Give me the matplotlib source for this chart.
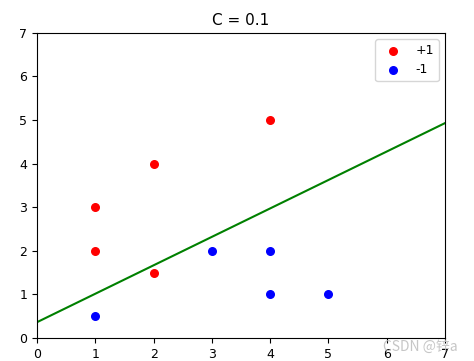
import matplotlib
matplotlib.use("Agg")
import matplotlib.pyplot as plt
import numpy as np

pos_x = [1, 1, 2, 2, 4]
pos_y = [3, 2, 4, 1.5, 5]
neg_x = [1, 3, 4, 4, 5]
neg_y = [0.5, 2, 2, 1, 1]
line_x = [0, 7]
line_y = [0.36, 4.93]
title = "C = 0.1"

fig = plt.figure(figsize=(4.74, 3.61), dpi=100)
ax = fig.add_axes([0.078, 0.064, 0.861, 0.845])
ax.scatter(pos_x, pos_y, color="red", s=30, label="+1")
ax.scatter(neg_x, neg_y, color="blue", s=30, label="-1")
ax.plot(line_x, line_y, color="green")
ax.set_xlim(0, 7)
ax.set_ylim(0, 7)
ax.set_title(title, fontsize=11)
ax.tick_params(labelsize=9)
ax.legend(loc="upper right", fontsize=9)
fig.text(0.966, 0.02, "CSDN @锌a", ha="right", va="bottom", fontsize=10,
         color="#c0c0c0", family=["Noto Sans CJK SC", "DejaVu Sans"], alpha=0.9)
fig.savefig("out.png", dpi=100)
